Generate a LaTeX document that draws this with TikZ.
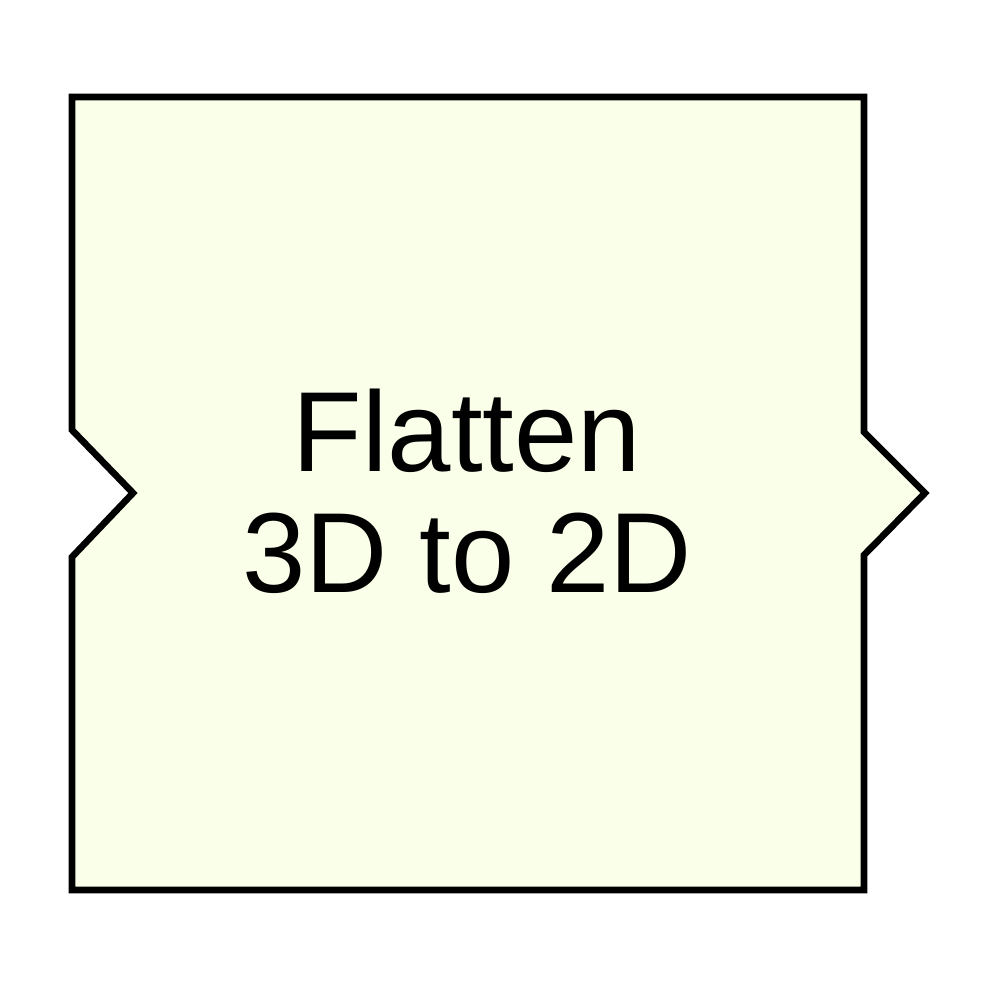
\documentclass[tikz,border=0pt]{standalone}
\usepackage{fontspec}
\setmainfont{Liberation Sans}
\definecolor{blockfill}{RGB}{250,255,234}
\tikzset{
  blockline/.style={draw=black,line width=1.9pt,fill=blockfill,line join=miter},
  blocklabel/.style={align=center,font=\fontsize{32.4}{34.4}\selectfont},
}

\begin{document}
\begin{tikzpicture}[x=0.1mm,y=-0.1mm]
  \useasboundingbox (0,0) rectangle (1000,988);
  % block outline with input notch and output tip
  \draw[blockline] (72,97) -- (864,97) -- (864,432) -- (925,493) -- (864,555)
    -- (864,890) -- (72,890) -- (72,557) -- (133,493) -- (72,430) -- cycle;
  % label
  \node[blocklabel] (flat) at (467,491) {Flatten\\3D to 2D};
\end{tikzpicture}
\end{document}
